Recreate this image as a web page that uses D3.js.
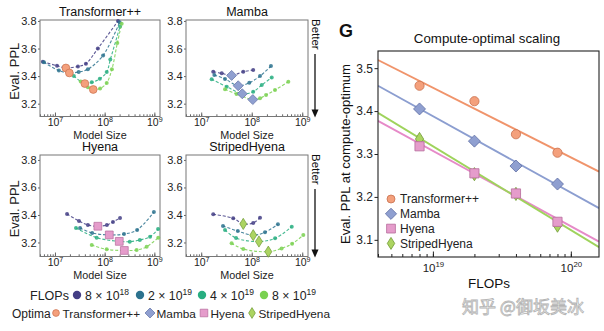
<!DOCTYPE html>
<html>
<head>
<meta charset="utf-8">
<script src="https://cdn.jsdelivr.net/npm/d3@7"></script>
<style>
  body { margin: 0; background: #fff; }
  svg { display: block; font-family: "Liberation Sans", Arial, Helvetica, sans-serif; }
</style>
</head>
<body>
<script>

// compute budgets of the isoFLOP sweeps
var flopBudgets = [8e18, 2e19, 4e19, 8e19];
var flopMantissa = ["8", "2", "4", "8"];
var flopExponent = ["18", "19", "19", "19"];

var archNames = ["Transformer++", "Mamba", "Hyena", "StripedHyena"];

// isoFLOP sweeps: one list of [model size, eval ppl] per budget
var sweepTransformer = [
  [[5.7e6, 3.505], [1.1e7, 3.475], [2.9e7, 3.47], [4.2e7, 3.49], [7.3e7, 3.60], [1.86e8, 3.80]],
  [[6.0e6, 3.50], [1.2e7, 3.44], [3.0e7, 3.43], [4.6e7, 3.45], [9.3e7, 3.55], [2.0e8, 3.79]],
  [[2.4e7, 3.40], [5.5e7, 3.355], [8.0e7, 3.38], [1.1e8, 3.43], [1.3e8, 3.52], [2.04e8, 3.76]],
  [[3.3e7, 3.36], [4.6e7, 3.32], [8.1e7, 3.31], [1.1e8, 3.35], [1.4e8, 3.45], [1.8e8, 3.64], [2.2e8, 3.78]]
];
var sweepMamba = [
  [[1.73e7, 3.432], [2.55e7, 3.42], [6.8e7, 3.432], [1.07e8, 3.444]],
  [[1.82e7, 3.408], [2.96e7, 3.379], [8.95e7, 3.352], [1.46e8, 3.40], [2.4e8, 3.473]],
  [[1.61e7, 3.377], [3.2e7, 3.323], [1.07e8, 3.287], [1.58e8, 3.335], [2.49e8, 3.39]],
  [[2.96e7, 3.304], [5.0e7, 3.27], [1.46e8, 3.239], [1.92e8, 3.263], [2.89e8, 3.299], [5.3e8, 3.359]]
];
var sweepHyena = [
  [[1.75e7, 3.407], [3.05e7, 3.356], [4.6e7, 3.327], [1.11e8, 3.327], [1.47e8, 3.349], [2.04e8, 3.378]],
  [[3.2e7, 3.305], [5.6e7, 3.269], [2.45e8, 3.261], [4.5e8, 3.291], [9.8e8, 3.421]],
  [[2.65e7, 3.305], [6.9e7, 3.235], [3.2e8, 3.206], [5.1e8, 3.218], [8.2e8, 3.242], [1.19e9, 3.298]],
  [[5.5e7, 3.181], [1.1e8, 3.15], [4.4e8, 3.145], [7.0e8, 3.169], [1.2e9, 3.235]]
];
var sweepStriped = [
  [[1.73e7, 3.405], [4.3e7, 3.376], [1.07e8, 3.342], [1.46e8, 3.38]],
  [[2.7e7, 3.32], [5.3e7, 3.283], [1.83e8, 3.274], [3.3e8, 3.332]],
  [[2.96e7, 3.291], [4.9e7, 3.232], [2.9e8, 3.23], [6.2e8, 3.315]],
  [[4.0e7, 3.194], [6.8e7, 3.152], [3.9e8, 3.157], [6.3e8, 3.19], [1.05e9, 3.254]]
];

// compute-optimal model size per budget
var optSizeTransformer = [1.66e7, 1.95e7, 4.0e7, 5.9e7];
var optSizeMamba = [4.0e7, 5.4e7, 6.5e7, 1.05e8];
var optSizeHyena = [7.3e7, 1.24e8, 1.97e8, 2.49e8];
var optSizeStriped = [6.8e7, 1.07e8, 1.39e8, 2.13e8];

// eval ppl at the compute optimum per budget
var optPplTransformer = [3.459, 3.423, 3.346, 3.303];
var optPplMamba = [3.405, 3.330, 3.272, 3.230];
var optPplHyena = [3.318, 3.255, 3.208, 3.142];
var optPplStriped = [3.335, 3.253, 3.207, 3.133];

// scaling fits, [flops, ppl] at both ends of the axis
var fitTransformer = [[4e18, 3.519], [1.6e20, 3.259]];
var fitMamba = [[4e18, 3.459], [1.6e20, 3.174]];
var fitHyena = [[4e18, 3.377], [1.6e20, 3.096]];
var fitStriped = [[4e18, 3.396], [1.6e20, 3.083]];

var sizeDomain = [5e6, 1.3e9];
var flopDomain = [4e18, 1.6e20];
var pplDomain = [3.06, 3.54];

// styles
var flopColors = ["#433e85", "#2c728e", "#28ae80", "#7ad151"];
var archFill = ["#f4a07c", "#8f9fd0", "#e59ccb", "#acd461"];
var archStroke = ["#c8714f", "#5f6ea3", "#b66b9c", "#6f9a35"];
var archLine = ["#f0946b", "#8c9ed0", "#e68ac8", "#9fd35c"];
var archShape = ["circle", "diamond", "square", "thin"];

var archs = archNames.map(function(name, i) {
  return {
    name: name,
    sweeps: [sweepTransformer, sweepMamba, sweepHyena, sweepStriped][i],
    optSize: [optSizeTransformer, optSizeMamba, optSizeHyena, optSizeStriped][i],
    optPpl: [optPplTransformer, optPplMamba, optPplHyena, optPplStriped][i],
    fit: [fitTransformer, fitMamba, fitHyena, fitStriped][i],
    fill: archFill[i], stroke: archStroke[i], line: archLine[i], shape: archShape[i]
  };
});

// panel boxes for the four isoFLOP plots
var boxes = [
  {x0: 40, x1: 160, y0: 20, y1: 116.5, yDom: [3.107, 3.807], left: true},
  {x0: 186, x1: 308, y0: 20, y1: 116.5, yDom: [3.107, 3.807], left: false},
  {x0: 40, x1: 160, y0: 155, y1: 256.5, yDom: [3.098, 3.836], left: true},
  {x0: 186, x1: 308, y0: 155, y1: 256.5, yDom: [3.098, 3.836], left: false}
];

var svg = d3.select("body").append("svg")
    .attr("width", 604)
    .attr("height", 331);

function markerPath(shape, s) {
  if (shape === "circle") return d3.symbol(d3.symbolCircle, Math.PI * s * s)();
  if (shape === "diamond") return "M0," + (-s) + "L" + s + ",0L0," + s + "L" + (-s) + ",0Z";
  if (shape === "square") return "M" + (-s) + "," + (-s) + "h" + (2 * s) + "v" + (2 * s) + "h" + (-2 * s) + "Z";
  var w = s * 0.62;
  return "M0," + (-s) + "L" + w + ",0L0," + s + "L" + (-w) + ",0Z";
}
var panelSize = {circle: 3.9, diamond: 5, square: 3.9, thin: 5.6};
var bigSize = {circle: 4.6, diamond: 6, square: 4.6, thin: 6.6};
var legendSize = {circle: 3.4, diamond: 5, square: 3.8, thin: 5.4};

// "10" with the exponent raised
function powerLabel(sel, fs) {
  sel.each(function(d) {
    var t = d3.select(this).text("10");
    t.append("tspan")
      .attr("dy", -fs * 0.42)
      .attr("font-size", fs * 0.68)
      .text(Math.round(Math.log10(d)));
  });
}

function drawPanel(arch, box) {
  var g = svg.append("g");
  var x = d3.scaleLog().domain(sizeDomain).range([box.x0, box.x1]);
  var y = d3.scaleLinear().domain(box.yDom).range([box.y1, box.y0]);

  // minor + major ticks on the log axis, pointing inward
  g.append("g")
    .attr("transform", "translate(0," + box.y1 + ")")
    .call(d3.axisBottom(x).tickValues(x.ticks()).tickSize(-2.2).tickFormat(""))
    .call(function(a) { a.select(".domain").remove(); })
    .selectAll("line").attr("stroke", "#666");
  var xa = g.append("g")
    .attr("transform", "translate(0," + box.y1 + ")")
    .call(d3.axisBottom(x).tickValues([1e7, 1e8, 1e9]).tickSize(-4).tickPadding(2.5))
    .call(function(a) { a.select(".domain").remove(); });
  xa.selectAll("line").attr("stroke", "#666");
  xa.selectAll("text").attr("font-size", 10.5).attr("fill", "#222").call(powerLabel, 10.5);
  xa.attr("font-family", null);

  var ya = g.append("g")
    .attr("transform", "translate(" + box.x0 + ",0)")
    .call(d3.axisLeft(y).tickValues([3.2, 3.4, 3.6, 3.8]).tickSize(2).tickPadding(1.5).tickFormat(d3.format(".1f")))
    .call(function(a) { a.select(".domain").remove(); });
  ya.attr("font-family", null);
  ya.selectAll("line").attr("stroke", "#666");
  ya.selectAll("text").attr("font-size", 11).attr("fill", "#222");

  g.append("rect")
    .attr("x", box.x0).attr("y", box.y0)
    .attr("width", box.x1 - box.x0).attr("height", box.y1 - box.y0)
    .attr("fill", "none").attr("stroke", "#777").attr("stroke-width", 1);

  var line = d3.line()
    .x(function(d) { return x(d[0]); })
    .y(function(d) { return y(d[1]); })
    .curve(d3.curveCatmullRom.alpha(0.5));

  arch.sweeps.forEach(function(pts, k) {
    var withOpt = pts.concat([[arch.optSize[k], arch.optPpl[k]]])
      .sort(function(a, b) { return a[0] - b[0]; });
    g.append("path")
      .attr("d", line(withOpt))
      .attr("fill", "none")
      .attr("stroke", flopColors[k])
      .attr("stroke-width", 1.1)
      .attr("stroke-dasharray", "3,1.8")
      .attr("opacity", 0.85);
    g.selectAll(null)
      .data(pts)
      .enter().append("circle")
      .attr("cx", function(d) { return x(d[0]); })
      .attr("cy", function(d) { return y(d[1]); })
      .attr("r", 2)
      .attr("fill", flopColors[k])
      .attr("opacity", 0.85);
  });

  g.selectAll(null)
    .data(arch.optSize)
    .enter().append("path")
    .attr("transform", function(d, k) {
      return "translate(" + x(d) + "," + y(arch.optPpl[k]) + ")";
    })
    .attr("d", markerPath(arch.shape, panelSize[arch.shape]))
    .attr("fill", arch.fill)
    .attr("stroke", arch.stroke)
    .attr("stroke-width", 0.7);

  var cx = (box.x0 + box.x1) / 2;
  g.append("text")
    .attr("x", cx).attr("y", box.y0 - 4)
    .attr("text-anchor", "middle")
    .attr("font-size", 12.5)
    .attr("fill", "#111")
    .text(arch.name);
  g.append("text")
    .attr("x", cx).attr("y", box.y1 + 22.5)
    .attr("text-anchor", "middle")
    .attr("font-size", 10.8)
    .attr("fill", "#222")
    .text("Model Size");

  if (box.left) {
    g.append("text")
      .attr("transform", "translate(19," + ((box.y0 + box.y1) / 2 + 3) + ") rotate(-90)")
      .attr("text-anchor", "middle")
      .attr("font-size", 13)
      .attr("fill", "#222")
      .text("Eval. PPL");
  } else {
    // "Better" arrow pointing down
    g.append("text")
      .attr("transform", "translate(311.5," + (box.y0 - 1) + ") rotate(90)")
      .attr("font-size", 11.5)
      .attr("fill", "#111")
      .text("Better");
    g.append("line")
      .attr("x1", 315).attr("x2", 315)
      .attr("y1", box.y0 + 34).attr("y2", box.y1 - 6)
      .attr("stroke", "#111").attr("stroke-width", 1.3);
    g.append("path")
      .attr("d", "M311.5," + (box.y1 - 7) + "L318.5," + (box.y1 - 7) + "L315," + (box.y1 + 1) + "Z")
      .attr("fill", "#111");
  }
}

archs.forEach(function(a, i) { drawPanel(a, boxes[i]); });

// legend under the panels
var leg = svg.append("g");
leg.append("text").attr("x", 30).attr("y", 299.5).attr("font-size", 12.5).attr("fill", "#222").text("FLOPs");
var flopX = [77, 140, 202, 264];
flopBudgets.forEach(function(f, k) {
  leg.append("circle").attr("cx", flopX[k]).attr("cy", 295).attr("r", 4.2).attr("fill", flopColors[k]);
  var t = leg.append("text").attr("x", flopX[k] + 8).attr("y", 299.5)
    .attr("font-size", 12.3).attr("fill", "#222")
    .text(flopMantissa[k] + " \u00d7 10");
  t.append("tspan").attr("dy", -5).attr("font-size", 8.5).text(flopExponent[k]);
});
leg.append("text").attr("x", 12).attr("y", 317.5).attr("font-size", 12).attr("fill", "#222").text("Optima");
var optX = [56, 150, 204, 252];
archs.forEach(function(a, i) {
  leg.append("path")
    .attr("transform", "translate(" + optX[i] + ",313)")
    .attr("d", markerPath(a.shape, legendSize[a.shape]))
    .attr("fill", a.fill).attr("stroke", a.stroke).attr("stroke-width", 0.7);
  leg.append("text").attr("x", optX[i] + 6.5).attr("y", 317.5)
    .attr("font-size", 11.8).attr("fill", "#222").text(a.name);
});

// compute-optimal scaling
var G = {x0: 378, x1: 599, y0: 51, y1: 257};
var gx = d3.scaleLog().domain(flopDomain).range([G.x0, G.x1]);
var gy = d3.scaleLinear().domain(pplDomain).range([G.y1, G.y0]);
var gp = svg.append("g");

gp.append("text").attr("x", 339).attr("y", 37).attr("font-size", 18).attr("font-weight", "bold").attr("fill", "#111").text("G");
gp.append("text").attr("x", 487).attr("y", 43).attr("text-anchor", "middle").attr("font-size", 13.3).attr("fill", "#111").text("Compute-optimal scaling");

gp.append("g")
  .attr("transform", "translate(0," + G.y1 + ")")
  .call(d3.axisBottom(gx).tickValues(gx.ticks()).tickSize(-3).tickFormat(""))
  .call(function(a) { a.select(".domain").remove(); })
  .selectAll("line").attr("stroke", "#222");
var gxa = gp.append("g")
  .attr("transform", "translate(0," + G.y1 + ")")
  .call(d3.axisBottom(gx).tickValues([1e19, 1e20]).tickSize(-5.5).tickPadding(7))
  .call(function(a) { a.select(".domain").remove(); });
gxa.attr("font-family", null);
gxa.selectAll("line").attr("stroke", "#222");
gxa.selectAll("text").attr("font-size", 11.5).attr("fill", "#222").call(powerLabel, 11.5);

var gya = gp.append("g")
  .attr("transform", "translate(" + G.x0 + ",0)")
  .call(d3.axisLeft(gy).tickValues([3.1, 3.2, 3.3, 3.4, 3.5]).tickSize(3.5).tickPadding(1.5).tickFormat(d3.format(".1f")))
  .call(function(a) { a.select(".domain").remove(); });
gya.attr("font-family", null);
gya.selectAll("line").attr("stroke", "#222");
gya.selectAll("text").attr("font-size", 12).attr("fill", "#222");

gp.append("text").attr("x", 489).attr("y", 288).attr("text-anchor", "middle").attr("font-size", 13.5).attr("fill", "#111").text("FLOPs");
gp.append("text")
  .attr("transform", "translate(350," + ((G.y0 + G.y1) / 2) + ") rotate(-90)")
  .attr("text-anchor", "middle").attr("font-size", 13.1).attr("fill", "#111")
  .text("Eval. PPL at compute-optimum");

var clip = gp.append("clipPath").attr("id", "gclip");
clip.append("rect").attr("x", G.x0).attr("y", G.y0).attr("width", G.x1 - G.x0).attr("height", G.y1 - G.y0);

var fitLine = d3.line()
  .x(function(d) { return gx(d[0]); })
  .y(function(d) { return gy(d[1]); });

var plot = gp.append("g").attr("clip-path", "url(#gclip)");
archs.forEach(function(a) {
  plot.append("path")
    .attr("d", fitLine(a.fit))
    .attr("fill", "none")
    .attr("stroke", a.line)
    .attr("stroke-width", 1.9);
});
// striped hyena under hyena
[0, 1, 3, 2].forEach(function(i) {
  var a = archs[i];
  plot.selectAll(null)
    .data(a.optPpl)
    .enter().append("path")
    .attr("transform", function(d, k) {
      return "translate(" + gx(flopBudgets[k]) + "," + gy(d) + ")";
    })
    .attr("d", markerPath(a.shape, bigSize[a.shape]))
    .attr("fill", a.fill)
    .attr("stroke", a.stroke)
    .attr("stroke-width", 0.8);
});

gp.append("rect")
  .attr("x", G.x0).attr("y", G.y0)
  .attr("width", G.x1 - G.x0).attr("height", G.y1 - G.y0)
  .attr("fill", "none").attr("stroke", "#222").attr("stroke-width", 1.1);

archs.forEach(function(a, i) {
  var ly = 199 + i * 14.8;
  gp.append("path")
    .attr("transform", "translate(391," + ly + ")")
    .attr("d", markerPath(a.shape, legendSize[a.shape] + 0.6))
    .attr("fill", a.fill).attr("stroke", a.stroke).attr("stroke-width", 0.8);
  gp.append("text").attr("x", 400).attr("y", ly + 4.3)
    .attr("font-size", 12).attr("fill", "#222").text(a.name);
});

svg.append("text")
  .attr("x", 462).attr("y", 313)
  .attr("font-family", "'Noto Sans CJK SC', sans-serif")
  .attr("font-size", 17)
  .attr("fill", "#fafafa")
  .attr("stroke", "#b4b4b4")
  .attr("stroke-width", 0.8)
  .text("知乎 @御坂美冰");

</script>
</body>
</html>
